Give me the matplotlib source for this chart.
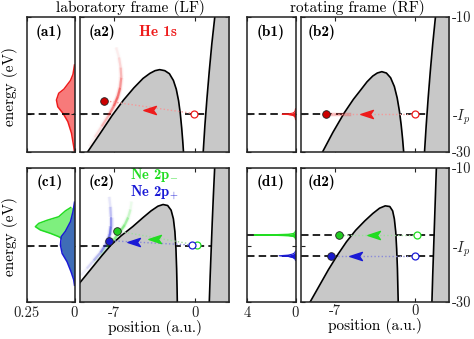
import matplotlib
matplotlib.use('Agg')
import matplotlib.pyplot as plt
import numpy as np
from matplotlib.collections import LineCollection
from matplotlib.path import Path
from matplotlib.colors import to_rgba

plt.rcParams['font.family'] = ['cmr10', 'DejaVu Serif']
plt.rcParams['mathtext.fontset'] = 'cm'
plt.rcParams['axes.unicode_minus'] = False
plt.rcParams['axes.formatter.use_mathtext'] = True

# ---------------- data ----------------
E_LIM = [-30, -10]
POS_LIM = [-10, 3]
IP_HE = -24.4
IP_NE = -21.6
NE_RF_LEVELS = [-20.0, -23.1]          # 2p-, 2p+ in rotating frame

# (a1) He 1s energy distribution
a1_energy = [-17.1, -18.5, -19.4, -20.7, -21.3, -22.3, -23.3, -24.3, -25.5, -27.2, -29.2, -30]
a1_prob = [0, 0.008, 0.021, 0.056, 0.083, 0.095, 0.088, 0.060, 0.035, 0.016, 0.004, 0]

# (c1) Ne 2p- (green) and 2p+ (blue)
c1_energy_m = [-15.9, -16.4, -17.27, -17.8, -18.26, -18.76, -19.25, -19.75, -20.25, -20.9, -21.8, -22.8, -23.8]
c1_prob_m = [0.02, 0.048, 0.083, 0.144, 0.188, 0.206, 0.18, 0.127, 0.083, 0.05, 0.025, 0.01, 0]
c1_energy_p = [-15.1, -16.5, -18.0, -19.45, -20.25, -21.5, -22.76, -24.0, -25.5, -26.7, -27.5]
c1_prob_p = [0, 0.008, 0.021, 0.048, 0.070, 0.074, 0.065, 0.039, 0.018, 0.004, 0]

# (b1) He rotating frame spike
b1_energy = [-25.2, -24.9, -24.7, -24.55, -24.45, -24.4, -24.35, -24.25, -24.1, -23.9, -23.6]
b1_prob = [0, 0.03, 0.1, 0.25, 0.6, 1.1, 0.6, 0.25, 0.1, 0.03, 0]

# (d1) Ne rotating frame spikes
d1_energy_m = [-20.6, -20.35, -20.2, -20.1, -20.04, -20.0, -19.96, -19.9, -19.8, -19.65, -19.4]
d1_prob_m = [0, 0.05, 0.2, 0.6, 1.6, 3.4, 1.6, 0.6, 0.2, 0.05, 0]
d1_energy_p = [-23.8, -23.55, -23.35, -23.2, -23.1, -23.0, -22.85, -22.65, -22.4]
d1_prob_p = [0, 0.06, 0.25, 0.6, 1.35, 0.6, 0.25, 0.06, 0]

# barriers: outline of tunnel barrier (position, energy)
a2_bar_x = [-9.34, -8.3, -7.2, -6.2, -5.3, -4.5, -3.9, -3.45, -3.05, -2.6, -2.2, -1.85, -1.6, -1.4, -1.25, -1.13, -1.04, -0.97]
a2_bar_E = [-30, -27.4, -24.6, -22.3, -20.5, -19.1, -18.35, -17.95, -17.8, -17.95, -18.4, -19.4, -20.7, -22.4, -24.3, -26.4, -28.3, -30]
b2_bar_x = [-8.11, -7.2, -6.2, -5.4, -4.75, -4.2, -3.7, -3.3, -2.9, -2.5, -2.13, -1.8, -1.55, -1.35, -1.2, -1.08, -0.98]
b2_bar_E = [-30, -27.1, -24.2, -22.2, -20.8, -19.6, -18.75, -18.3, -18.1, -18.3, -19.0, -20.3, -22.0, -24.0, -26.0, -28.0, -30]
c2_bar_x = [-10.0, -9.0, -8.1, -7.3, -6.4, -5.4, -4.5, -3.8, -3.2, -2.75, -2.35, -2.05, -1.85, -1.72, -1.63, -1.57, -1.53, -1.51]
c2_bar_E = [-27.1, -25.0, -23.1, -21.5, -20.1, -18.75, -17.4, -16.4, -15.7, -15.45, -15.6, -16.3, -17.6, -19.5, -22.0, -25.0, -28.0, -30]
d2_bar_x = [-9.2, -8.4, -7.6, -6.8, -6.0, -5.2, -4.4, -3.7, -3.1, -2.6, -2.2, -1.95, -1.8, -1.68, -1.6, -1.53, -1.49, -1.46]
d2_bar_E = [-30, -27.6, -25.2, -23.0, -21.0, -19.3, -17.9, -16.8, -16.0, -15.65, -15.75, -16.4, -17.6, -19.5, -22.0, -25.0, -28.0, -30]
# right (nucleus side) walls
wall_E = [-30, -26, -22, -18, -14, -10]
a2_wall_x = [0.75, 0.9, 1.08, 1.28, 1.5, 1.76]
b2_wall_x = [0.85, 1.0, 1.17, 1.36, 1.57, 1.81]
c2_wall_x = [1.28, 1.36, 1.45, 1.54, 1.64, 1.75]
d2_wall_x = [1.5, 1.57, 1.65, 1.73, 1.81, 1.89]

# trails (position, energy, intensity)
a2_trail_x = [-6.85, -6.6, -6.45, -6.4, -6.5, -6.7, -7.05, -7.5, -8.1, -8.7, -9.2]
a2_trail_E = [-14.5, -16.0, -17.5, -19.0, -20.5, -21.8, -23.2, -24.6, -26.2, -27.8, -29.2]
a2_trail_I = [0.03, 0.1, 0.22, 0.35, 0.55, 0.75, 0.65, 0.4, 0.2, 0.08, 0.02]
c2_trail_m_x = [-5.5, -5.6, -5.8, -6.1, -6.5, -7.0, -7.6, -8.2, -8.8]
c2_trail_m_E = [-15.0, -16.2, -17.4, -18.5, -19.5, -20.6, -21.8, -23.0, -24.2]
c2_trail_m_I = [0.03, 0.12, 0.3, 0.5, 0.6, 0.5, 0.3, 0.12, 0.03]
c2_trail_p_x = [-7.45, -7.35, -7.3, -7.3, -7.4, -7.7, -8.2, -8.8, -9.4, -9.9]
c2_trail_p_E = [-14.3, -15.8, -17.3, -18.7, -20.0, -21.3, -22.6, -23.8, -25.0, -26.0]
c2_trail_p_I = [0.03, 0.15, 0.35, 0.55, 0.7, 0.55, 0.35, 0.2, 0.08, 0.02]

# entry (open circle), exit (dot) and arrow positions: (x, E)
a2_entry = [-0.09, -24.3]; a2_exit = [-7.87, -22.4]; a2_arrow = [-3.85, -23.8]
b2_entry = [0.0, IP_HE]; b2_exit = [-7.8, IP_HE]; b2_arrow = [-4.2, IP_HE]
c2_entry_m = [0.2, -21.5]; c2_exit_m = [-6.76, -19.4]; c2_arrow_m = [-3.5, -20.6]
c2_entry_p = [-0.23, -21.5]; c2_exit_p = [-7.44, -20.85]; c2_arrow_p = [-5.25, -21.1]
d2_entry_m = [0.17, -20.0]; d2_exit_m = [-6.65, -20.0]; d2_arrow_m = [-3.6, -20.0]
d2_entry_p = [0.0, -23.1]; d2_exit_p = [-7.37, -23.1]; d2_arrow_p = [-5.2, -23.1]

RED = '#ee1c1c'
GREEN = '#22dd22'
BLUE = '#1a1ad6'
GRAY = '#c8c8c8'

# ---------------- figure ----------------
W, H = 474, 339
fig = plt.figure(figsize=(W / 100, H / 100), dpi=100)


def add_ax(x0, y0, x1, y1):
    return fig.add_axes([x0 / W, 1 - y1 / H, (x1 - x0) / W, (y1 - y0) / H])


ax_a1 = add_ax(27, 17, 74.5, 152)
ax_a2 = add_ax(80, 17, 229, 152)
ax_b1 = add_ax(247, 17, 295.5, 152)
ax_b2 = add_ax(301, 17, 449, 152)
ax_c1 = add_ax(27, 168, 74.5, 302)
ax_c2 = add_ax(80, 168, 229, 302)
ax_d1 = add_ax(247, 168, 295.5, 302)
ax_d2 = add_ax(301, 168, 449, 302)


def style(ax, ip, xlim, xticks, xlabels, ylabels_right=False, xlab=None):
    ax.set_ylim(*E_LIM)
    ax.set_xlim(*xlim)
    for s in ax.spines.values():
        s.set_linewidth(1.1)
        s.set_color('#222222')
        s.set_zorder(6)
    ax.set_yticks([-30, ip, -10])
    ax.set_xticks(xticks)
    ax.tick_params(direction='in', length=3, width=0.8, top=True, bottom=True,
                   left=True, right=True, labelsize=10.5, pad=3, colors='#222222')
    if xlabels is None:
        ax.tick_params(labelbottom=False)
    else:
        ax.set_xticklabels(xlabels)
    if ylabels_right:
        ax.tick_params(labelleft=False, labelright=True, pad=2)
        ax.set_yticklabels(['-30', r'-$I_p$', '-10'])
    else:
        ax.tick_params(labelleft=False)
    if xlab:
        ax.set_xlabel(xlab, fontsize=11, labelpad=0)


def dashed(ax, level, z=1):
    ax.axhline(level, color='k', lw=1.2, ls=(0, (4.5, 2.5)), zorder=z)


def trail(ax, xs, es, inten, color, lw=1.5):
    pts = np.column_stack([xs, es])
    segs = np.stack([pts[:-1], pts[1:]], axis=1)
    a = np.asarray(inten)
    a_seg = (a[:-1] + a[1:]) / 2
    base = np.array([to_rgba(color, al) for al in a_seg])
    for w, f in [(lw * 2.6, 0.12), (lw * 1.6, 0.3), (lw, 0.75)]:
        c = base.copy()
        c[:, 3] *= f
        ax.add_collection(LineCollection(segs, colors=c, linewidths=w,
                                         capstyle='butt', zorder=1.5))


ARROW = Path([(-1, 0), (0.9, 0.62), (0.45, 0), (0.9, -0.62), (-1, 0)],
             [Path.MOVETO, Path.LINETO, Path.LINETO, Path.LINETO, Path.CLOSEPOLY])


def path_marks(ax, entry, exit_, arrow, color, dot_face, dotted_color):
    ax.plot([entry[0], exit_[0]], [entry[1], exit_[1]], ls=(0, (1, 1.6)),
            lw=1.0, color=dotted_color, zorder=3)
    ax.plot(*arrow, marker=ARROW, ms=9.5, color=color, mec=color, zorder=4)
    ax.plot(*entry, marker='o', ms=5, mfc='white', mec=color, mew=0.9, zorder=4)
    ax.plot(*exit_, marker='o', ms=5.5, mfc=dot_face, mec='#222222', mew=0.6, zorder=4)


def barrier(ax, bx, be, wx):
    ax.fill_between(bx, be, -30, color=GRAY, lw=0, zorder=2)
    ax.plot(bx, be, color='k', lw=1.2, zorder=2.5)
    ax.fill_betweenx(wall_E, wx, POS_LIM[1] + 1, color=GRAY, lw=0, zorder=2)
    ax.plot(wx, wall_E, color='k', lw=1.2, zorder=2.5)


lab_kw = dict(fontsize=11, ha='center', va='center', family='cmb10')

# ---- (a1)
style(ax_a1, IP_HE, [0.25, 0], [0.25, 0], None)
ax_a1.fill_betweenx(a1_energy, a1_prob, 0, color='#f77a7a', lw=0, zorder=1)
ax_a1.plot(a1_prob, a1_energy, color=RED, lw=1.1, zorder=1.2)
dashed(ax_a1, IP_HE, z=2)
ax_a1.text(0.47, 0.89, '(a1)', transform=ax_a1.transAxes, **lab_kw)

# ---- (a2)
style(ax_a2, IP_HE, POS_LIM, [-7, 0], None)
dashed(ax_a2, IP_HE)
barrier(ax_a2, a2_bar_x, a2_bar_E, a2_wall_x)
trail(ax_a2, a2_trail_x, a2_trail_E, a2_trail_I, RED)
path_marks(ax_a2, a2_entry, a2_exit, a2_arrow, RED, '#cc0000', '#f39a9a')
ax_a2.text(0.146, 0.89, '(a2)', transform=ax_a2.transAxes, **lab_kw)
ax_a2.text(0.52, 0.89, 'He 1s', transform=ax_a2.transAxes, color=RED, **lab_kw)

# ---- (b1)
style(ax_b1, IP_HE, [4, 0], [4, 0], None)
dashed(ax_b1, IP_HE)
ax_b1.fill_betweenx(b1_energy, b1_prob, 0, color=RED, lw=0, zorder=3)
ax_b1.plot(b1_prob, b1_energy, color=RED, lw=0.8, zorder=3)
ax_b1.text(0.49, 0.89, '(b1)', transform=ax_b1.transAxes, **lab_kw)

# ---- (b2)
style(ax_b2, IP_HE, POS_LIM, [-7, 0], None, ylabels_right=True)
dashed(ax_b2, IP_HE)
barrier(ax_b2, b2_bar_x, b2_bar_E, b2_wall_x)
ax_b2.plot([b2_exit[0], b2_exit[0] + 2.0], [IP_HE, IP_HE], color=RED, lw=2.5, alpha=0.25, zorder=2.6)
path_marks(ax_b2, b2_entry, b2_exit, b2_arrow, RED, '#cc0000', '#f39a9a')
ax_b2.text(0.14, 0.89, '(b2)', transform=ax_b2.transAxes, **lab_kw)

# ---- (c1)
style(ax_c1, IP_NE, [0.25, 0], [0.25, 0], ['0.25', '0'])
dashed(ax_c1, IP_NE, z=1)
ax_c1.fill_betweenx(c1_energy_m, c1_prob_m, 0, color='#7ef07e', lw=0, zorder=1.5)
ax_c1.plot(c1_prob_m, c1_energy_m, color=GREEN, lw=1.1, zorder=1.6)
ax_c1.fill_betweenx(c1_energy_p, c1_prob_p, 0, color='#3f6db6', lw=0, zorder=1.7)
ax_c1.plot(c1_prob_p, c1_energy_p, color=BLUE, lw=1.1, zorder=1.8)
ax_c1.text(0.47, 0.89, '(c1)', transform=ax_c1.transAxes, **lab_kw)

# ---- (c2)
style(ax_c2, IP_NE, POS_LIM, [-7, 0], ['-7', '0'], xlab='position (a.u.)')
dashed(ax_c2, IP_NE)
barrier(ax_c2, c2_bar_x, c2_bar_E, c2_wall_x)
trail(ax_c2, c2_trail_m_x, c2_trail_m_E, c2_trail_m_I, GREEN)
trail(ax_c2, c2_trail_p_x, c2_trail_p_E, c2_trail_p_I, BLUE)
path_marks(ax_c2, c2_entry_m, c2_exit_m, c2_arrow_m, GREEN, '#22cc22', '#9fdc9f')
path_marks(ax_c2, c2_entry_p, c2_exit_p, c2_arrow_p, BLUE, '#1a1acc', '#8a8ad8')
ax_c2.text(0.146, 0.89, '(c2)', transform=ax_c2.transAxes, **lab_kw)
ax_c2.text(0.335, 0.945, r'Ne 2p$_{-}$', transform=ax_c2.transAxes, color=GREEN,
           fontsize=10.5, ha='left', va='center', family='cmb10')
ax_c2.text(0.335, 0.815, r'Ne 2p$_{+}$', transform=ax_c2.transAxes, color=BLUE,
           fontsize=10.5, ha='left', va='center', family='cmb10')

# ---- (d1)
style(ax_d1, IP_NE, [4, 0], [4, 0], ['4', '0'])
for lv in NE_RF_LEVELS:
    dashed(ax_d1, lv)
ax_d1.fill_betweenx(d1_energy_m, d1_prob_m, 0, color=GREEN, lw=0, zorder=3)
ax_d1.plot(d1_prob_m, d1_energy_m, color=GREEN, lw=1.0, zorder=3)
ax_d1.fill_betweenx(d1_energy_p, d1_prob_p, 0, color=BLUE, lw=0, zorder=3)
ax_d1.plot(d1_prob_p, d1_energy_p, color=BLUE, lw=0.8, zorder=3)
ax_d1.text(0.49, 0.89, '(d1)', transform=ax_d1.transAxes, **lab_kw)

# ---- (d2)
style(ax_d2, IP_NE, POS_LIM, [-7, 0], ['-7', '0'], ylabels_right=True, xlab='position (a.u.)')
for lv in NE_RF_LEVELS:
    dashed(ax_d2, lv)
barrier(ax_d2, d2_bar_x, d2_bar_E, d2_wall_x)
path_marks(ax_d2, d2_entry_m, d2_exit_m, d2_arrow_m, GREEN, '#22cc22', '#9fdc9f')
path_marks(ax_d2, d2_entry_p, d2_exit_p, d2_arrow_p, BLUE, '#1a1acc', '#8a8ad8')
ax_d2.text(0.14, 0.89, '(d2)', transform=ax_d2.transAxes, **lab_kw)

# ---- shared text
fig.text(130 / W, 1 - 8 / H, 'laboratory frame (LF)', fontsize=11, ha='center', va='center')
fig.text(357 / W, 1 - 8 / H, 'rotating frame (RF)', fontsize=11, ha='center', va='center')
fig.text(10 / W, 1 - 86 / H, 'energy (eV)', fontsize=11, rotation=90, ha='center', va='center')
fig.text(10 / W, 1 - 236 / H, 'energy (eV)', fontsize=11, rotation=90, ha='center', va='center')

fig.savefig('out.png', dpi=100)
